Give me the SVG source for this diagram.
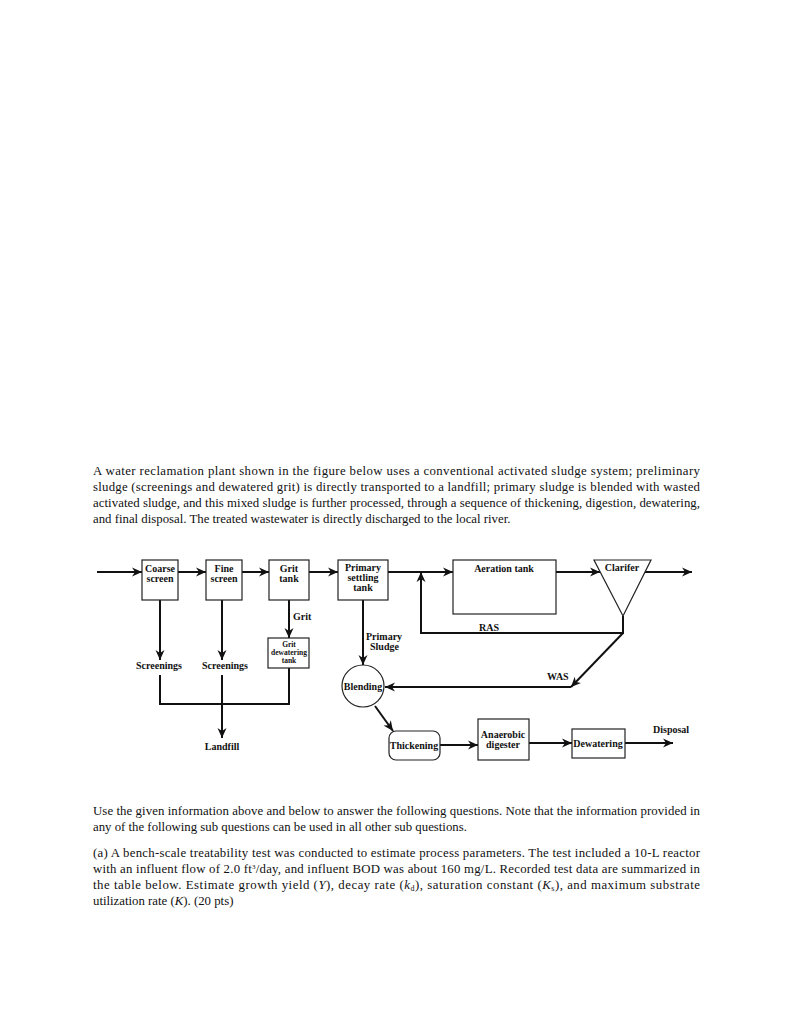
<svg xmlns="http://www.w3.org/2000/svg" width="791" height="1024" viewBox="0 0 791 1024">
<style>
.p{font-family:"Liberation Serif","Times New Roman",serif;font-size:12.8px;fill:#111}
.b{font-family:"Liberation Serif","Times New Roman",serif;font-weight:bold;font-size:10px;fill:#111;text-anchor:middle}
.bl{font-family:"Liberation Serif","Times New Roman",serif;font-weight:bold;font-size:10px;fill:#111}
.s{font-family:"Liberation Serif","Times New Roman",serif;font-weight:bold;font-size:7.5px;fill:#111;text-anchor:middle}
.box{fill:#fff;stroke:#222;stroke-width:1.2}
.c{fill:none;stroke:#111;stroke-width:2}
</style>
<defs>
<marker id="a" markerWidth="10" markerHeight="10" refX="10" refY="5" orient="auto" markerUnits="userSpaceOnUse">
<path d="M0,0.5 L10,5 L0,9.5 L3,5 z" fill="#111"/>
</marker>
</defs>
<rect width="791" height="1024" fill="#fff"/>

<g id="para1" class="p">
<text x="93" y="475" textLength="607" lengthAdjust="spacing">A water reclamation plant shown in the figure below uses a conventional activated sludge system; preliminary</text>
<text x="93" y="491" textLength="607" lengthAdjust="spacing">sludge (screenings and dewatered grit) is directly transported to a landfill; primary sludge is blended with wasted</text>
<text x="93" y="507" textLength="607" lengthAdjust="spacing">activated sludge, and this mixed sludge is further processed, through a sequence of thickening, digestion, dewatering,</text>
<text x="93" y="523">and final disposal. The treated wastewater is directly discharged to the local river.</text>
</g>

<g id="connectors">
<line class="c" x1="97" y1="572" x2="142" y2="572" marker-end="url(#a)"/>
<line class="c" x1="178" y1="572" x2="206" y2="572" marker-end="url(#a)"/>
<line class="c" x1="242" y1="572" x2="269" y2="572" marker-end="url(#a)"/>
<line class="c" x1="309" y1="572" x2="338" y2="572" marker-end="url(#a)"/>
<line class="c" x1="388" y1="572" x2="453" y2="572" marker-end="url(#a)"/>
<line class="c" x1="556" y1="572" x2="600" y2="572" marker-end="url(#a)"/>
<line class="c" x1="645" y1="572" x2="692" y2="572" marker-end="url(#a)"/>
<polyline class="c" points="623,616 623,633 421,633 421,572" marker-end="url(#a)"/>
<line class="c" x1="623" y1="633" x2="571" y2="687" marker-end="url(#a)"/>
<line class="c" x1="571" y1="687" x2="385" y2="687" marker-end="url(#a)"/>
<line class="c" x1="363" y1="600" x2="363" y2="665" marker-end="url(#a)"/>
<line class="c" x1="375" y1="706" x2="393" y2="731" marker-end="url(#a)"/>
<line class="c" x1="440" y1="745" x2="478" y2="745" marker-end="url(#a)"/>
<line class="c" x1="529" y1="743" x2="572" y2="743" marker-end="url(#a)"/>
<line class="c" x1="625" y1="743" x2="673" y2="743" marker-end="url(#a)"/>
<line class="c" x1="160" y1="600" x2="160" y2="660" marker-end="url(#a)"/>
<line class="c" x1="222" y1="600" x2="222" y2="660" marker-end="url(#a)"/>
<line class="c" x1="289" y1="600" x2="289" y2="638" marker-end="url(#a)"/>
<polyline class="c" points="160,675 160,704 289,704 289,668"/>
<line class="c" x1="222" y1="675" x2="222" y2="704"/>
<line class="c" x1="222" y1="704" x2="222" y2="738" marker-end="url(#a)"/>
</g>

<g id="coarse"><rect class="box" x="142" y="560" width="36" height="40"/><text class="b" x="160" y="572">Coarse</text><text class="b" x="160" y="582">screen</text></g>
<g id="fine"><rect class="box" x="206" y="560" width="36" height="40"/><text class="b" x="224" y="572">Fine</text><text class="b" x="224" y="582">screen</text></g>
<g id="grit"><rect class="box" x="269" y="560" width="40" height="40"/><text class="b" x="289" y="572">Grit</text><text class="b" x="289" y="582">tank</text></g>
<g id="primary"><rect class="box" x="338" y="560" width="50" height="40"/><text class="b" x="363" y="571">Primary</text><text class="b" x="363" y="581">settling</text><text class="b" x="363" y="591">tank</text></g>
<g id="aeration"><rect class="box" x="453" y="560" width="103" height="54"/><text class="b" x="504" y="572">Aeration tank</text></g>
<g id="clarifier"><polygon class="box" points="594,560 651,560 623,616"/><text class="b" x="622" y="571">Clarifer</text></g>
<g id="gritdew"><rect class="box" x="268" y="638" width="41" height="30"/><text class="s" x="289" y="647">Grit</text><text class="s" x="289" y="655">dewatering</text><text class="s" x="289" y="663">tank</text></g>
<g id="blending"><circle class="box" cx="363" cy="686" r="21"/><text class="b" x="363" y="690">Blending</text></g>
<g id="thickening"><rect class="box" x="389" y="731" width="51" height="29" rx="7"/><text class="b" x="414" y="749">Thickening</text></g>
<g id="digester"><rect class="box" x="478" y="719" width="51" height="41"/><text class="b" x="503" y="738">Anaerobic</text><text class="b" x="503" y="748">digester</text></g>
<g id="dewatering"><rect class="box" x="572" y="729" width="53" height="29"/><text class="b" x="598" y="747">Dewatering</text></g>

<g id="labels">
<text class="bl" x="293" y="620">Grit</text>
<text class="bl" x="366" y="640">Primary</text>
<text class="bl" x="370" y="650">Sludge</text>
<text class="bl" x="479" y="631">RAS</text>
<text class="bl" x="547" y="680">WAS</text>
<text class="b" x="159" y="669">Screenings</text>
<text class="b" x="225" y="669">Screenings</text>
<text class="b" x="222" y="750">Landfill</text>
<text class="bl" x="653" y="733">Disposal</text>
</g>

<g id="para2" class="p">
<text x="93" y="815" textLength="607" lengthAdjust="spacing">Use the given information above and below to answer the following questions. Note that the information provided in</text>
<text x="93" y="831">any of the following sub questions can be used in all other sub questions.</text>
</g>
<g id="para3" class="p">
<text x="93" y="857" textLength="607" lengthAdjust="spacing">(a) A bench-scale treatability test was conducted to estimate process parameters. The test included a 10-L reactor</text>
<text x="93" y="873" textLength="607" lengthAdjust="spacing">with an influent flow of 2.0 ft<tspan dy="-4" font-size="7">3</tspan><tspan dy="4">/day, and influent BOD was about 160 mg/L. Recorded test data are summarized in</tspan></text>
<text x="93" y="889" textLength="607" lengthAdjust="spacing">the table below. Estimate growth yield (<tspan font-style="italic">Y</tspan>), decay rate (<tspan font-style="italic">k</tspan><tspan dy="2" font-size="8">d</tspan><tspan dy="-2">), saturation constant (</tspan><tspan font-style="italic">K</tspan><tspan dy="2" font-size="8">s</tspan><tspan dy="-2">), and maximum substrate</tspan></text>
<text x="93" y="905">utilization rate (<tspan font-style="italic">K</tspan>). (20 pts)</text>
</g>
</svg>
